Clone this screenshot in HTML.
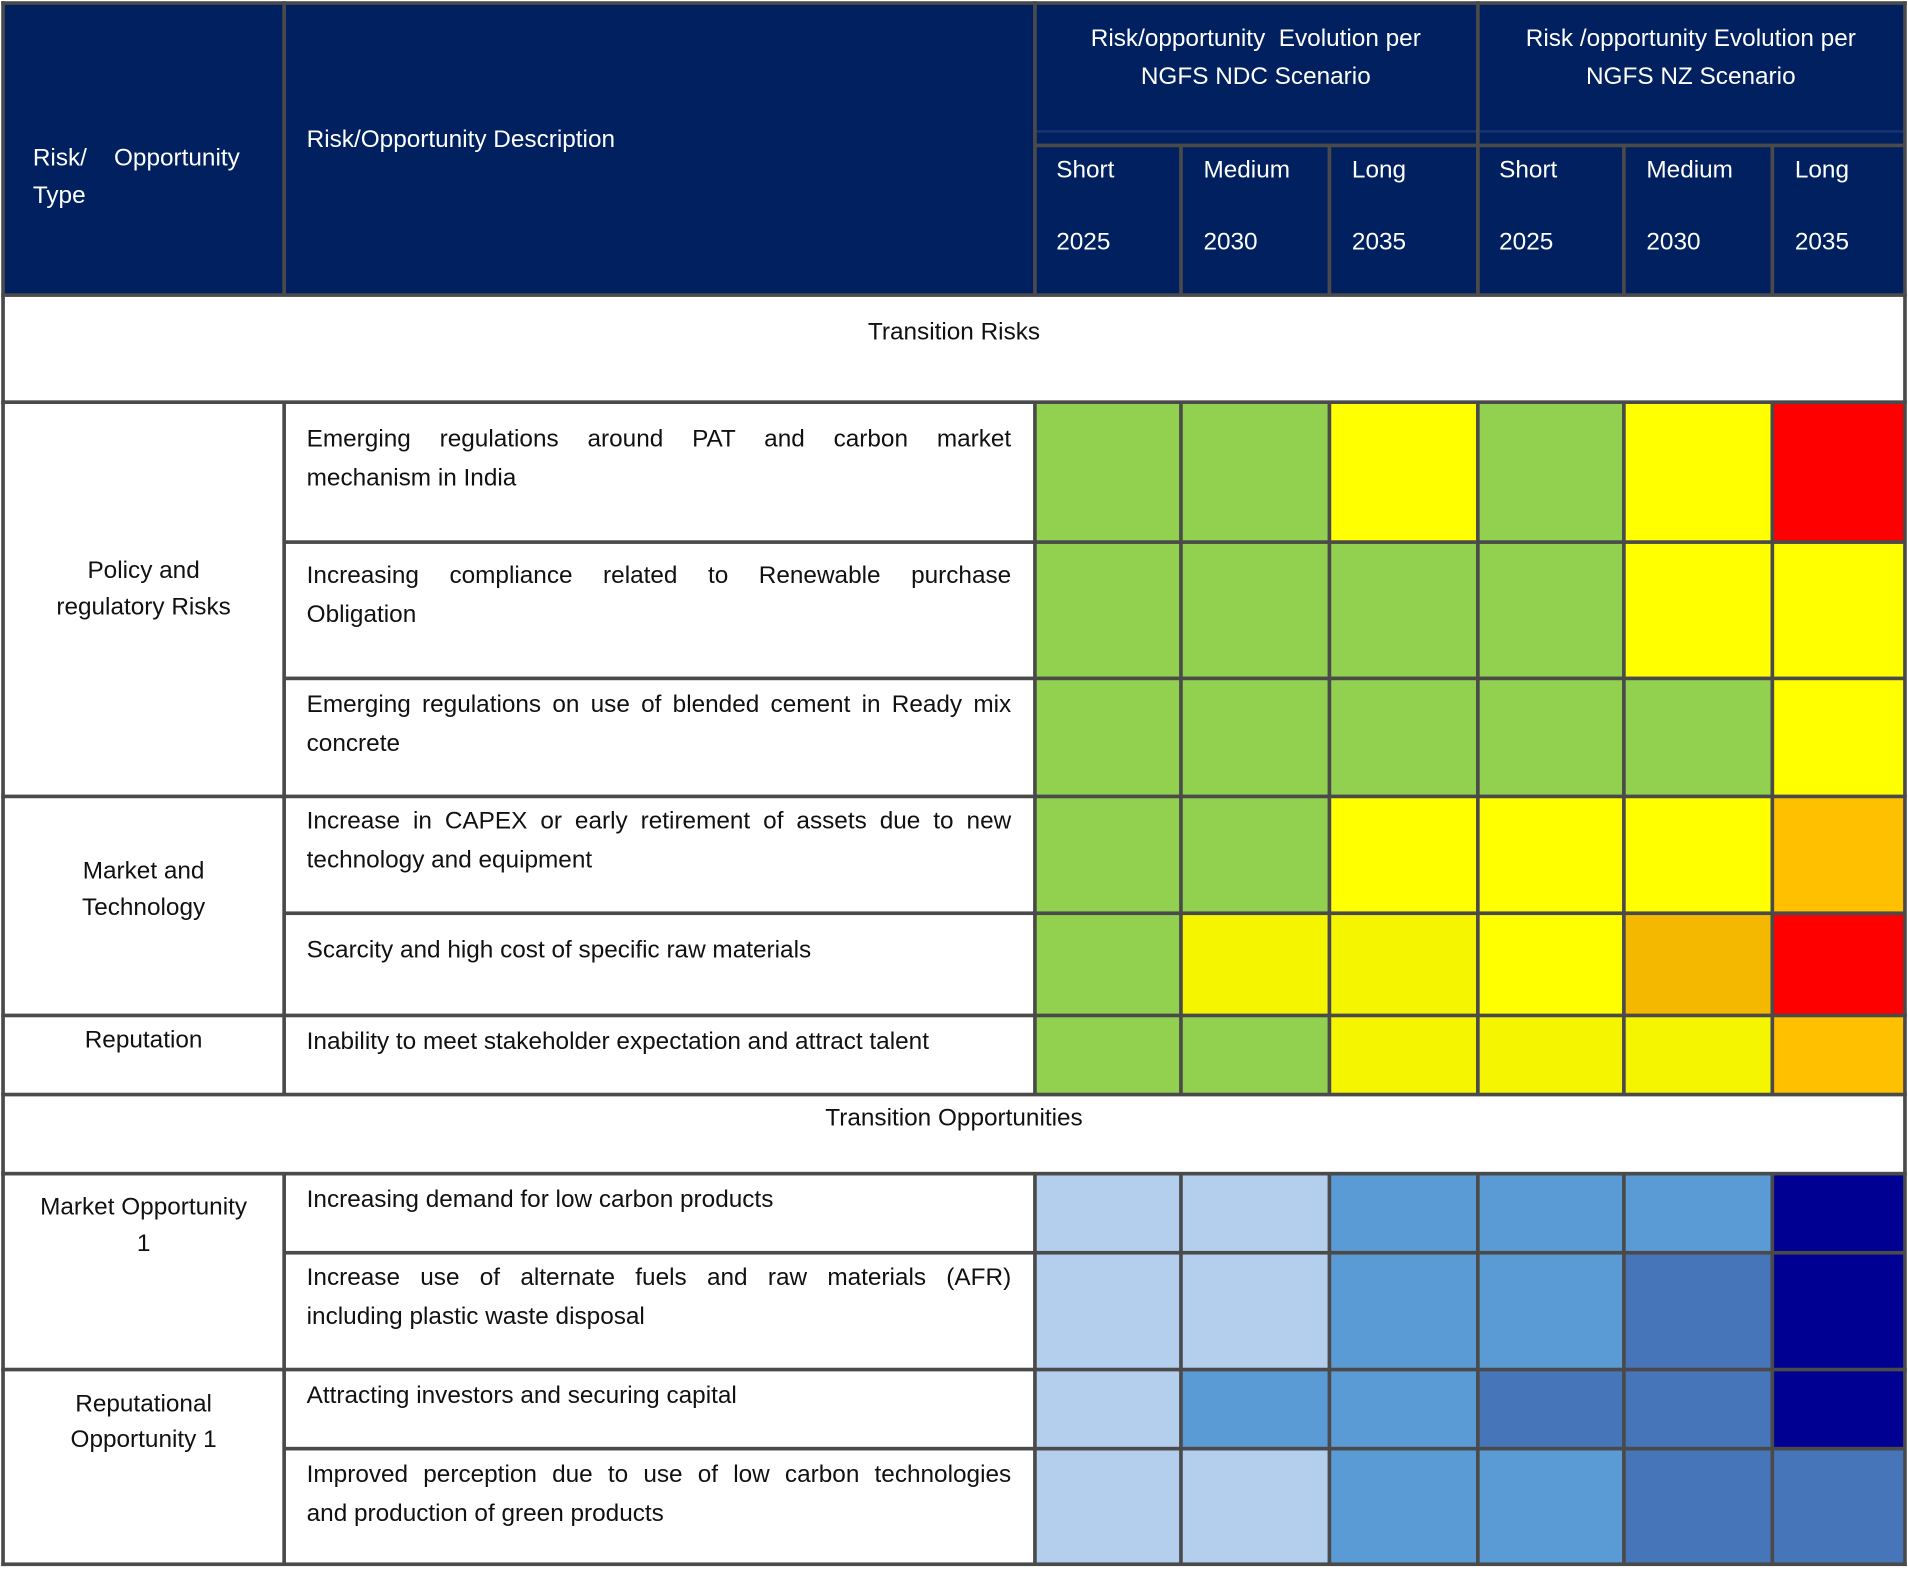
<!DOCTYPE html>
<html><head><meta charset="utf-8"><style>
html,body{margin:0;padding:0;background:#fff;}
body{width:1908px;height:1569px;overflow:hidden;}
#w{position:absolute;left:0;top:0;width:1568px;height:1290px;transform:scale(1.21684);transform-origin:0 0;font-family:"Liberation Sans",sans-serif;font-size:20px;color:#111;}
.a{position:absolute;box-sizing:border-box;}
.hl{position:absolute;background:#4a4a4a;}
.t{position:absolute;white-space:nowrap;line-height:31px;}
.w{color:#fff;}
.j{position:absolute;left:252px;width:579px;line-height:32px;}
.j div{text-align:justify;text-align-last:justify;white-space:nowrap;}
.j div.l{text-align-last:left;}
.c{position:absolute;text-align:center;line-height:30px;}
</style></head><body><div id="w">
<div class="a" style="left:3px;top:3px;width:1562px;height:240px;background:#002060"></div>
<div class="a" style="left:850px;top:107px;width:715px;height:2px;background:#1a3570"></div>
<div id="cells"></div>
<div class="t w" style="left:27px;top:115px">Risk/&nbsp;&nbsp;&nbsp; Opportunity</div>
<div class="t w" style="left:27px;top:146px">Type</div>
<div class="t w" style="left:252px;top:100px">Risk/Opportunity Description</div>
<div class="c w" style="left:850px;width:364px;top:17px;line-height:31px">Risk/opportunity&nbsp; Evolution per<br>NGFS NDC Scenario</div>
<div class="c w" style="left:1214px;width:351px;top:17px;line-height:31px">Risk /opportunity Evolution per<br>NGFS NZ Scenario</div>
<div class="t w" style="left:868px;top:125px">Short</div><div class="t w" style="left:868px;top:184px">2025</div>
<div class="t w" style="left:989px;top:125px">Medium</div><div class="t w" style="left:989px;top:184px">2030</div>
<div class="t w" style="left:1111px;top:125px">Long</div><div class="t w" style="left:1111px;top:184px">2035</div>
<div class="t w" style="left:1232px;top:125px">Short</div><div class="t w" style="left:1232px;top:184px">2025</div>
<div class="t w" style="left:1353px;top:125px">Medium</div><div class="t w" style="left:1353px;top:184px">2030</div>
<div class="t w" style="left:1475px;top:125px">Long</div><div class="t w" style="left:1475px;top:184px">2035</div>
<div class="c" style="left:3px;width:1562px;top:258px">Transition Risks</div>
<div class="c" style="left:3px;width:1562px;top:904px">Transition Opportunities</div>
<div class="c" style="left:3px;width:230px;top:454px">Policy and<br>regulatory Risks</div>
<div class="c" style="left:3px;width:230px;top:701px">Market and<br>Technology</div>
<div class="c" style="left:3px;width:230px;top:840px">Reputation</div>
<div class="c" style="left:3px;width:230px;top:977px">Market Opportunity<br>1</div>
<div class="c" style="left:3px;width:230px;top:1140px;line-height:29px">Reputational<br>Opportunity 1</div>
<div class="j" style="top:345px"><div>Emerging regulations around PAT and carbon market</div><div class="l">mechanism in India</div></div>
<div class="j" style="top:457px"><div>Increasing compliance related to Renewable purchase</div><div class="l">Obligation</div></div>
<div class="j" style="top:563px"><div>Emerging regulations on use of blended cement in Ready mix</div><div class="l">concrete</div></div>
<div class="j" style="top:659px"><div>Increase in CAPEX or early retirement of assets due to new</div><div class="l">technology and equipment</div></div>
<div class="j" style="top:765px"><div class="l">Scarcity and high cost of specific raw materials</div></div>
<div class="j" style="top:840px"><div class="l">Inability to meet stakeholder expectation and attract talent</div></div>
<div class="j" style="top:970px"><div class="l">Increasing demand for low carbon products</div></div>
<div class="j" style="top:1034px"><div>Increase use of alternate fuels and raw materials (AFR)</div><div class="l">including plastic waste disposal</div></div>
<div class="j" style="top:1131px"><div class="l">Attracting investors and securing capital</div></div>
<div class="j" style="top:1196px"><div>Improved perception due to use of low carbon technologies</div><div class="l">and production of green products</div></div>
</div>
<script>
var X=[3,233,850,970,1092,1214,1334,1456,1565];
var C={G:"#92d050",Y:"#ffff00",y:"#f5f500",R:"#ff0000",O:"#ffc000",D:"#f5b800",L:"#b4cfed",M:"#5a9ad5",B:"#4775b9",N:"#000092"};
var rows=[[331,445,"GGYGYR"],[445,557,"GGGGYY"],[557,654,"GGGGGY"],[654,750,"GGYYYO"],[750,834,"GyyYDR"],[834,899,"GGyyyO"],
[964,1029,"LLMMMN"],[1029,1125,"LLMMBN"],[1125,1190,"LMMBBN"],[1190,1285,"LLMMBB"]];
var h="",w=document.getElementById("w");
rows.forEach(function(r){for(var i=0;i<6;i++){h+='<div class="a" style="left:'+X[i+2]+'px;top:'+r[0]+'px;width:'+(X[i+3]-X[i+2])+'px;height:'+(r[1]-r[0])+'px;background:'+C[r[2][i]]+'"></div>';}});
function L(x,y,wd,ht){h+='<div class="hl" style="left:'+x+'px;top:'+y+'px;width:'+wd+'px;height:'+ht+'px"></div>';}
L(1,1,1566,3);L(850,118,716,3);
[242,330,899,964].forEach(function(y){L(1,y-1,1566,3);});
[445,557,750,1029,1190].forEach(function(y){L(233,y-1,1333,3);});
[654,834,1125,1285].forEach(function(y){L(1,y-1,1566,3);});
L(1,1,3,1286);L(1564,1,3,1286);
[[1,243],[330,899],[964,1286]].forEach(function(s){[233,850].forEach(function(x){L(x-1,s[0],3,s[1]-s[0]);});});
L(1213,1,3,242);
[[118,243],[330,899],[964,1286]].forEach(function(s){[970,1092,1214,1334,1456].forEach(function(x){L(x-1,s[0],3,s[1]-s[0]);});});
document.getElementById("cells").outerHTML=h;
</script>
</body></html>
